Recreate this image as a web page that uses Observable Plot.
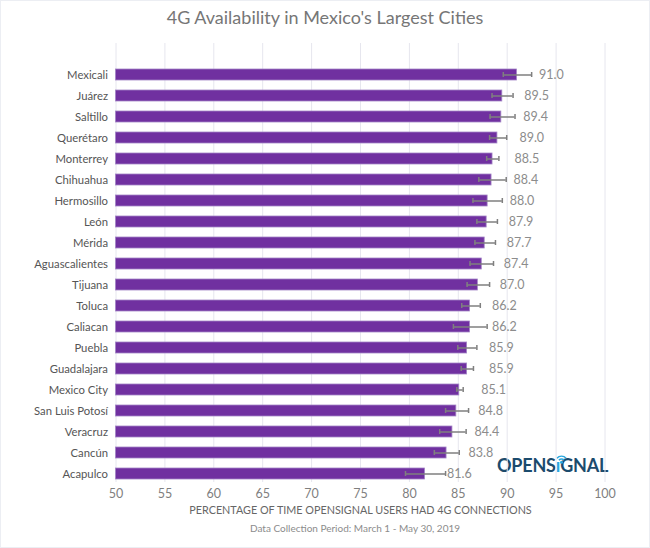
<!DOCTYPE html>
<html>
<head>
<meta charset="utf-8">
<script src="https://cdn.jsdelivr.net/npm/d3@7"></script>
<script src="https://cdn.jsdelivr.net/npm/@observablehq/plot@0.6"></script>
<style>
  html, body { margin: 0; padding: 0; background: #fff; }
  #chart { position: relative; width: 650px; height: 548px; font-family: Lato, "Noto Sans", sans-serif; overflow: hidden; }
  #chart svg { position: absolute; left: 0; top: 0; }
  .title { position: absolute; left: 0; top: 7px; width: 650px; text-align: center; font-size: 18px; line-height: 21px; color: #767676; }
  .caption { position: absolute; left: 110px; top: 522px; width: 490px; text-align: center; font-size: 10px; line-height: 12px; color: #8c8c8c; }
  .logo { position: absolute; left: 497px; top: 455px; font-size: 18px; line-height: 20px; font-weight: 700; color: #1b4b6d; letter-spacing: -0.2px; white-space: nowrap; }
  .logo .i { position: relative; color: #2aa7df; }
  .logo .i svg { position: absolute; left: -3px; top: -8px; overflow: visible; }
  .frame { position: absolute; inset: 0; border: 1px solid #eceef3; box-sizing: border-box; pointer-events: none; }
</style>
</head>
<body>
<div id="chart">
  <div class="title">4G Availability in Mexico's Largest Cities</div>
  <div class="caption">Data Collection Period: March 1 - May 30, 2019</div>
  <div class="logo">OPENS<span class="i">ı<svg width="12" height="10" viewBox="0 0 12 10"><circle cx="5.5" cy="8.2" r="1.5" fill="#2aa7df"/><path d="M2.9 6.2 A3.4 3.4 0 0 1 8.1 6.2" fill="none" stroke="#2aa7df" stroke-width="1.4"/><path d="M0.9 4.3 A6 6 0 0 1 10.1 4.3" fill="none" stroke="#2aa7df" stroke-width="1.4"/></svg></span>GNAL</div>
  <div class="frame"></div>
</div>
<script>
// Share of time users had a 4G connection, by city (March 1 – May 30, 2019)
const cities = ["Mexicali", "Juárez", "Saltillo", "Querétaro", "Monterrey", "Chihuahua", "Hermosillo", "León", "Mérida", "Aguascalientes", "Tijuana", "Toluca", "Caliacan", "Puebla", "Guadalajara", "Mexico City", "San Luis Potosí", "Veracruz", "Cancún", "Acapulco"];
const availability = [91.0, 89.5, 89.4, 89.0, 88.5, 88.4, 88.0, 87.9, 87.7, 87.4, 87.0, 86.2, 86.2, 85.9, 85.9, 85.1, 84.8, 84.4, 83.8, 81.6];
// Confidence interval bounds
const lower = [89.6, 88.45, 88.25, 88.2, 87.9, 87.1, 86.5, 86.9, 86.7, 86.2, 85.9, 85.35, 84.5, 84.95, 85.3, 84.85, 83.7, 83.1, 82.55, 79.6];
const upper = [92.5, 90.6, 90.8, 89.95, 89.15, 89.9, 89.5, 89.0, 88.8, 88.6, 88.2, 87.25, 87.95, 86.9, 86.55, 85.5, 86.05, 85.8, 85.1, 83.7];
const xTicks = [50, 55, 60, 65, 70, 75, 80, 85, 90, 95, 100];
const xLabel = "PERCENTAGE OF TIME OPENSIGNAL USERS HAD 4G CONNECTIONS";

const rows = cities.map((city, i) => ({city, value: availability[i], lo: lower[i], hi: upper[i]}));

const purple = "#7030a0";
const errColor = "#7f7f7f";

const plot = Plot.plot({
  width: 650,
  height: 548,
  marginTop: 43,
  marginBottom: 66,
  marginLeft: 115.5,
  marginRight: 45.5,
  style: {fontFamily: "Lato, 'Noto Sans', sans-serif", fontSize: "12px", background: "transparent"},
  x: {domain: [50, 100], ticks: xTicks},
  y: {domain: cities, paddingInner: 0.48, paddingOuter: 0.662, align: 0.9},
  marks: [
    Plot.ruleX(xTicks, {stroke: "#e6e6ee", strokeWidth: 1}),
    Plot.barX(rows, {x1: 50, x2: "value", y: "city", fill: purple, stroke: "#a385c6", strokeWidth: 0.8}),
    Plot.ruleY(rows, {x1: "lo", x2: "hi", y: "city", stroke: errColor, strokeWidth: 1.5}),
    Plot.tickX(rows, {x: "lo", y: "city", stroke: errColor, strokeWidth: 1.5, insetTop: 3, insetBottom: 3}),
    Plot.tickX(rows, {x: "hi", y: "city", stroke: errColor, strokeWidth: 1.5, insetTop: 3, insetBottom: 3}),
    Plot.text(rows, {x: "value", y: "city", text: d => d.value.toFixed(1), dx: 22, textAnchor: "start", fill: "#8c8c8c", fontSize: 12.5}),
    // tick labels
    Plot.axisX({ticks: xTicks, tickSize: 0, tickPadding: 7, fontSize: 12.5, color: "#7f7f7f", label: null}),
    // axis title, set smaller than the tick labels
    Plot.axisX({ticks: [], tickSize: 0, fontSize: 10.8, color: "#666666",
      label: xLabel, labelAnchor: "center", labelArrow: "none", labelOffset: 31}),
    Plot.axisY({tickSize: 0, tickPadding: 8, fontSize: 11.3, color: "#555555", label: null})
  ]
});

document.getElementById("chart").insertBefore(plot, document.querySelector(".frame"));
</script>
</body>
</html>
